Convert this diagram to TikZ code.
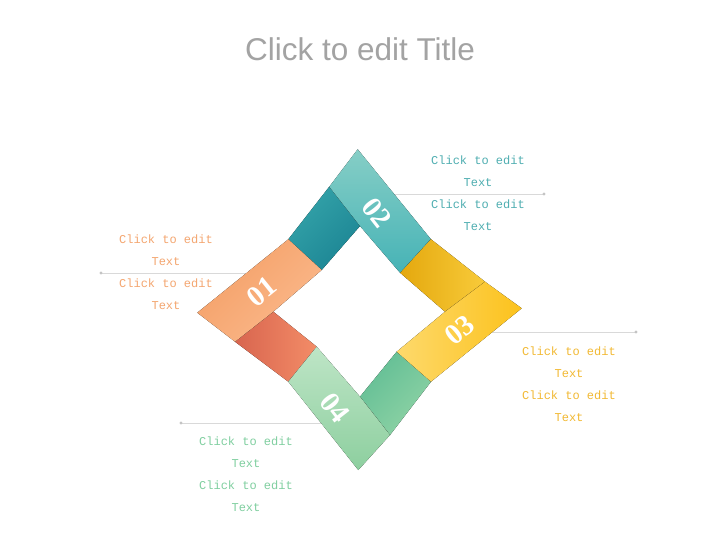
\documentclass[tikz,border=0pt]{standalone}
\usepackage{fontspec}
\setmainfont{Liberation Serif}
\newfontfamily\titlefont{Liberation Sans}
\newfontfamily\labelfont{Liberation Mono}
\newfontfamily\numfont{Liberation Serif}
\definecolor{titlegray}{HTML}{A3A3A3}
\definecolor{linegray}{HTML}{D9D9D9}
\definecolor{dotgray}{HTML}{C4C4C4}
\definecolor{txtorange}{HTML}{F4A670}
\definecolor{txtteal}{HTML}{4FAEB1}
\definecolor{txtyellow}{HTML}{F2B933}
\definecolor{txtgreen}{HTML}{80CFA0}
\begin{document}
\begin{tikzpicture}[x=1pt,y=-1pt,
  lbl/.style={font=\labelfont\fontsize{12}{22}\selectfont, align=center, inner sep=0pt},
  sep/.style={draw=linegray, line width=0.8pt},
  dotend/.style={fill=dotgray, draw=none},
  num/.style={font=\numfont\bfseries\fontsize{29}{29}\selectfont, text=white, inner sep=0pt}]
\useasboundingbox (0,0) rectangle (721,540);
\fill[white] (0,0) rectangle (721,540);
% title
\node[font=\titlefont\fontsize{31.5}{36}\selectfont, text=titlegray] (title) at (360,49) {Click to edit Title};
% separator lines
\coordinate (oA) at (101,273); \coordinate (oB) at (255,273);
\coordinate (tA) at (385,194); \coordinate (tB) at (544,194);
\coordinate (yA) at (485,332); \coordinate (yB) at (636,332);
\coordinate (gA) at (181,423); \coordinate (gB) at (330,423);
\draw[sep] (oA) -- (oB);
\draw[sep] (tA) -- (tB);
\draw[sep] (yA) -- (yB);
\draw[sep] (gA) -- (gB);
\fill[dotend] (oA) circle (1.6);
\fill[dotend] (tB) circle (1.6);
\fill[dotend] (yB) circle (1.6);
\fill[dotend] (gA) circle (1.6);
% dark fold pieces
\fill[left color={rgb,255:red,52;green,163;blue,169}, right color={rgb,255:red,28;green,133;blue,148}, shading angle=45]
  (329.3,186.7) -- (360,226) -- (321.7,270) -- (288.3,239.3) -- cycle;
\fill[left color={rgb,255:red,228;green,168;blue,14}, right color={rgb,255:red,248;green,203;blue,58}]
  (400,272.7) -- (430.7,239) -- (485,281.7) -- (445,311.7) -- cycle;
\fill[left color={rgb,255:red,98;green,190;blue,149}, right color={rgb,255:red,143;green,211;blue,165}, shading angle=45]
  (360,396.7) -- (396.7,351.7) -- (431,381.7) -- (390,435) -- cycle;
\fill[left color={rgb,255:red,216;green,101;blue,79}, right color={rgb,255:red,243;green,140;blue,103}]
  (273.3,311.7) -- (316.7,346.7) -- (288.3,381.7) -- (235,341.7) -- cycle;
% light number strips
\fill[top color={rgb,255:red,134;green,206;blue,198}, bottom color={rgb,255:red,70;green,179;blue,182}]
  (357.7,149.3) -- (430.7,239) -- (400,272.7) -- (360,226) -- (329.3,186.7) -- cycle;
\fill[left color={rgb,255:red,244;green,159;blue,102}, right color={rgb,255:red,251;green,185;blue,140}, shading angle=45]
  (197.3,312.7) -- (288.3,239.3) -- (321.7,270) -- (273.3,311.7) -- (235,341.7) -- cycle;
\fill[top color={rgb,255:red,190;green,229;blue,198}, bottom color={rgb,255:red,141;green,207;blue,159}]
  (316.7,346.7) -- (360,396.7) -- (390,435) -- (358.3,470) -- (288.3,381.7) -- cycle;
\fill[left color={rgb,255:red,253;green,217;blue,108}, right color={rgb,255:red,252;green,194;blue,28}]
  (445,311.7) -- (485,281.7) -- (521.7,308.3) -- (431,381.7) -- (396.7,351.7) -- cycle;
% numbers
\node[num, rotate=39] (n1) at (261.5,291.5) {01};
\node[num, rotate=-52] (n2) at (377,213) {02};
\node[num, rotate=39] (n3) at (460,330) {03};
\node[num, rotate=-52] (n4) at (335,408) {04};
% labels
\node[lbl, text=txtorange] (l1) at (166,272.5) {Click to edit\\Text\\Click to edit\\Text};
\node[lbl, text=txtteal] (l2) at (478,193.5) {Click to edit\\Text\\Click to edit\\Text};
\node[lbl, text=txtyellow] (l3) at (569,384.5) {Click to edit\\Text\\Click to edit\\Text};
\node[lbl, text=txtgreen] (l4) at (246,474.5) {Click to edit\\Text\\Click to edit\\Text};
\end{tikzpicture}
\end{document}
